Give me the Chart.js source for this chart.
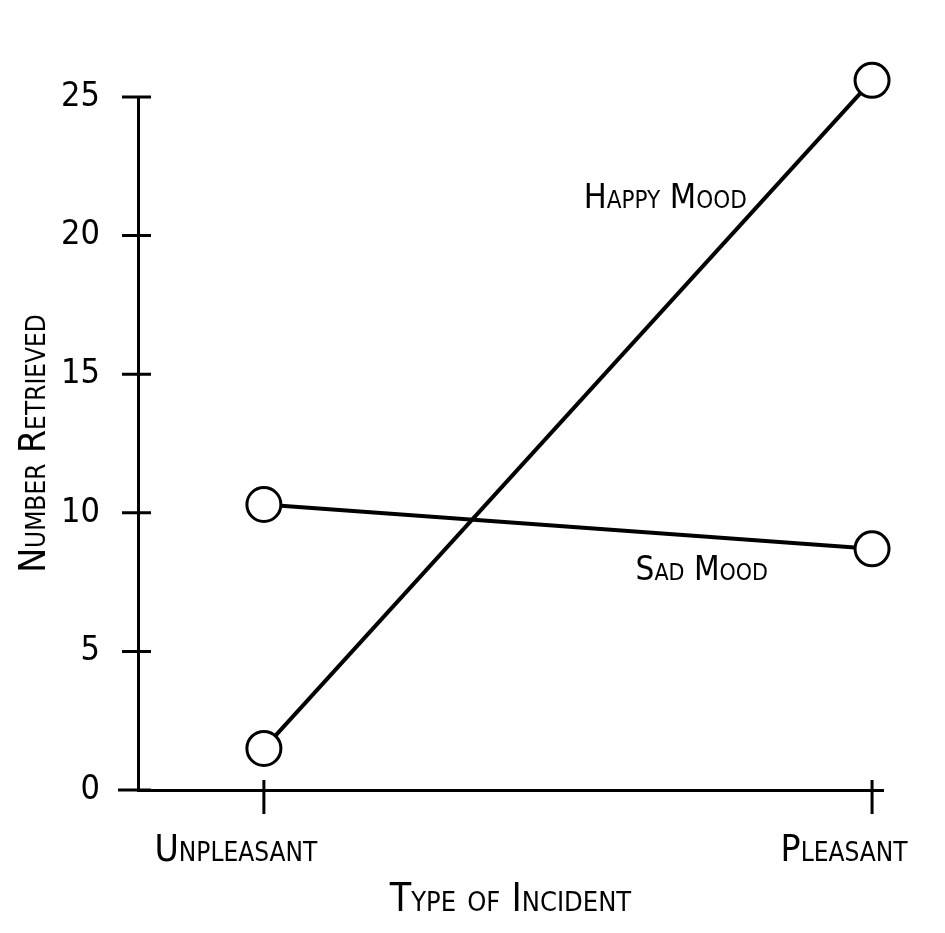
<!DOCTYPE html>
<html>
<head>
<meta charset="utf-8">
<script src="https://cdn.jsdelivr.net/npm/chart.js"></script>
<style>
  html, body { margin: 0; padding: 0; background: #fff; }
  #wrap { width: 945px; height: 933px; }
</style>
</head>
<body>
<div id="wrap"><canvas id="myChart"></canvas></div>
<script>
// values
const categories = ['Unpleasant', 'Pleasant'];
const seriesNames = ['Happy Mood', 'Sad Mood'];
const happyMood = [1.5, 25.6];
const sadMood = [10.3, 8.7];
const yTicks = [0, 5, 10, 15, 20, 25];

const fam = "'DejaVu Sans Condensed', 'Liberation Sans Narrow', sans-serif";

function toPoints(vals) {
   return vals.map((v, i) => ({ x: i, y: v }));
}

// crossing tick marks and the little stub of x axis left of the y axis
const axisMarks = {
   id: 'axisMarks',
   beforeDatasetsDraw(chart) {
      const { ctx, chartArea, scales: { x, y } } = chart;
      ctx.save();
      ctx.strokeStyle = '#000';
      ctx.lineWidth = 3;
      ctx.lineCap = 'butt';
      ctx.beginPath();
      const y0 = y.getPixelForValue(0);
      ctx.moveTo(chartArea.left - 20, y0);
      ctx.lineTo(chartArea.left, y0);
      yTicks.forEach(v => {
         const py = y.getPixelForValue(v);
         ctx.moveTo(chartArea.left - 16, py);
         ctx.lineTo(chartArea.left + 13, py);
      });
      categories.forEach((c, i) => {
         const px = x.getPixelForValue(i);
         ctx.moveTo(px, y0 - 10);
         ctx.lineTo(px, y0 + 24);
      });
      ctx.stroke();
      ctx.restore();
   }
};

// series names written next to the lines
const lineNames = {
   id: 'lineNames',
   afterDatasetsDraw(chart, args, opts) {
      const { ctx, scales: { x, y } } = chart;
      ctx.save();
      ctx.fillStyle = '#000';
      ctx.textAlign = 'center';
      ctx.textBaseline = 'middle';
      opts.spots.forEach((s, i) => {
         ctx.font = 'small-caps ' + s[2] + 'px ' + fam;
         ctx.fillText(seriesNames[i], x.getPixelForValue(s[0]), y.getPixelForValue(s[1]));
      });
      ctx.restore();
   }
};

const pointStyle = {
   borderColor: '#000',
   backgroundColor: '#000',
   pointBackgroundColor: '#fff',
   pointBorderColor: '#000',
   pointBorderWidth: 3,
   pointRadius: 17,
   borderWidth: 4,
   tension: 0,
   clip: false
};

// chart.js rejects 'small-caps' as a style, so it rides in the weight slot
const caps = size => ({ family: fam, size: size, weight: 'small-caps' });

new Chart(document.getElementById('myChart'), {
   type: 'line',
   data: {
      datasets: [
         Object.assign({ label: seriesNames[0], data: toPoints(happyMood) }, pointStyle),
         Object.assign({ label: seriesNames[1], data: toPoints(sadMood) }, pointStyle)
      ]
   },
   options: {
      responsive: true,
      maintainAspectRatio: false,
      animation: false,
      layout: { padding: { top: 97, right: 62, left: 0, bottom: 0 } },
      plugins: {
         legend: { display: false },
         tooltip: { enabled: false },
         lineNames: { spots: [[0.66, 21.3, 34], [0.72, 7.9, 33]] }
      },
      scales: {
         x: {
            type: 'linear',
            min: -0.207,
            max: 1.018,
            afterBuildTicks: s => { s.ticks = categories.map((c, i) => ({ value: i })); },
            afterFit: s => { s.height = 143; s.paddingLeft = 0; s.paddingRight = 0; },
            grid: { display: false, drawTicks: false },
            border: { display: true, color: '#000', width: 3 },
            ticks: {
               color: '#000',
               padding: 39,
               labelOffset: -28,
               font: caps(37),
               callback: v => categories[v]
            },
            title: {
               display: true,
               text: 'Type of Incident',
               color: '#000',
               padding: { top: 0, bottom: 9 },
               font: caps(39)
            }
         },
         y: {
            min: 0,
            max: 25,
            afterBuildTicks: s => { s.ticks = yTicks.map(v => ({ value: v })); },
            afterFit: s => { s.width = 138; s.paddingTop = 0; s.paddingBottom = 0; },
            grid: { display: false, drawTicks: false },
            border: { display: true, color: '#000', width: 3 },
            ticks: {
               color: '#000',
               padding: 38,
               font: { family: fam, size: 34 }
            },
            title: {
               display: true,
               text: 'Number Retrieved',
               color: '#000',
               padding: { top: 13, bottom: 0 },
               font: caps(37)
            }
         }
      }
   },
   plugins: [axisMarks, lineNames]
});
</script>
</body>
</html>
